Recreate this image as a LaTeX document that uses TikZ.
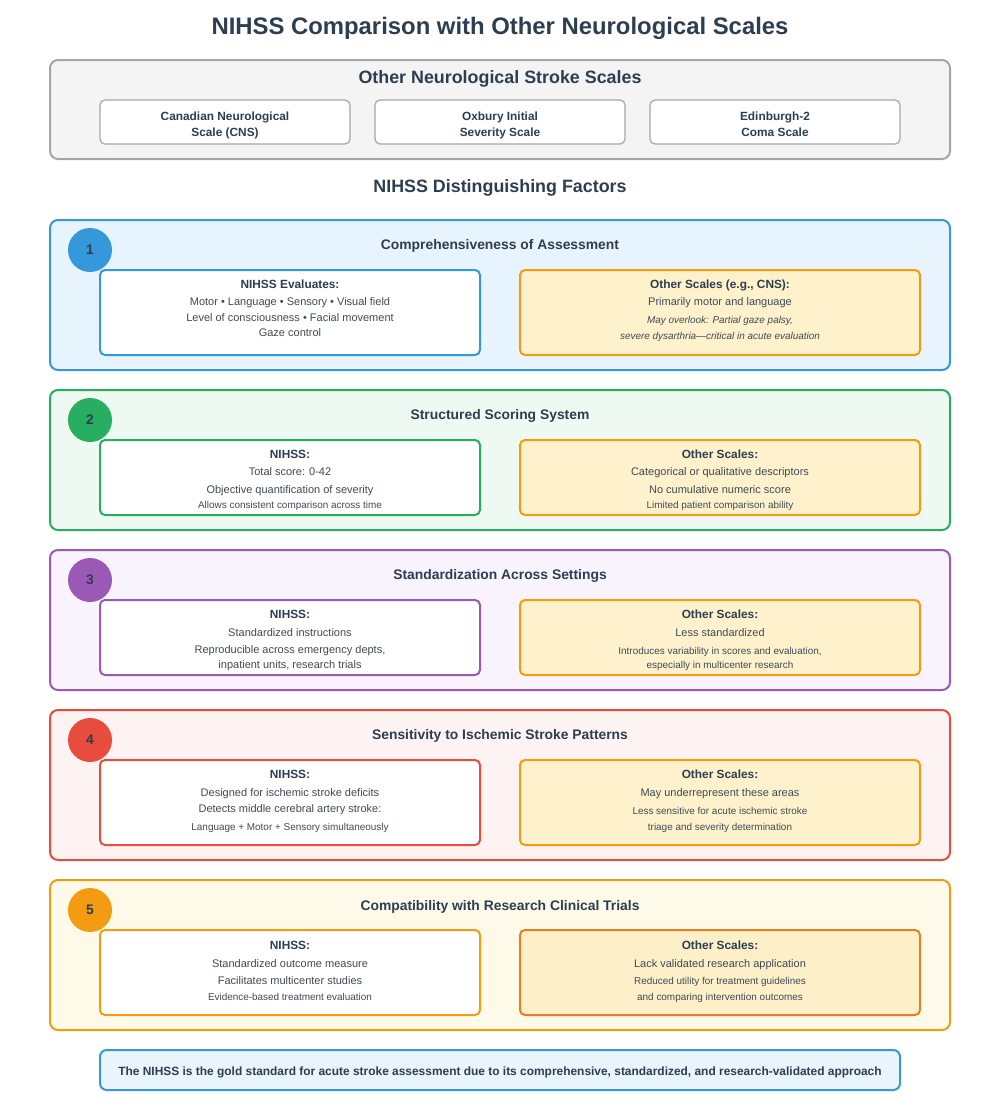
\documentclass[tikz,border=0pt]{standalone}
\usepackage{fontspec}
\setmainfont{Liberation Sans}
\usetikzlibrary{fit}
\definecolor{dark}{HTML}{2C3E50}
\definecolor{bodyc}{HTML}{3F4A55}
\definecolor{cblue}{HTML}{3498DB}
\definecolor{cgreen}{HTML}{27AE60}
\definecolor{cpurple}{HTML}{9B59B6}
\definecolor{cred}{HTML}{E74C3C}
\definecolor{corange}{HTML}{F39C12}
\definecolor{cdorange}{HTML}{E67E22}
\definecolor{fblue}{HTML}{E8F4FD}
\definecolor{fgreen}{HTML}{EEFAF1}
\definecolor{fpurple}{HTML}{F8F3FC}
\definecolor{fred}{HTML}{FDF3F2}
\definecolor{forange}{HTML}{FEFAEA}
\definecolor{fcream}{HTML}{FEF2CC}
\definecolor{fcream2}{HTML}{FDEFC8}
\definecolor{fgray}{HTML}{F4F4F4}
\definecolor{bgray}{HTML}{A6A6A6}
\definecolor{ffoot}{HTML}{EAF4FB}
\newcommand\ftitle{\fontsize{17.9}{21}\selectfont\bfseries}
\newcommand\fsec{\fontsize{13.4}{16}\selectfont\bfseries}
\newcommand\fsect{\fontsize{10.4}{12}\selectfont\bfseries}
\newcommand\fhead{\fontsize{8.9}{11}\selectfont\bfseries}
\newcommand\fbody{\fontsize{8.25}{10}\selectfont}
\newcommand\fsmall{\fontsize{7.45}{9}\selectfont}
\begin{document}
\begin{tikzpicture}[x=0.75pt,y=-0.75pt,
  frame/.style={inner sep=0pt, rounded corners=6pt, line width=1.5pt},
  inbox/.style={inner sep=0pt, rounded corners=3.75pt, line width=1.5pt},
  num/.style={circle, minimum size=33pt, inner sep=0pt, text=dark, font=\fsect},
  t/.style={anchor=mid, inner sep=0pt, text=bodyc, yshift=-1.1pt},
  th/.style={t, text=dark, font=\fhead},
  tb/.style={t, font=\fbody},
  ts/.style={t, font=\fsmall},
  tsi/.style={t, font=\fsmall\itshape},
  st/.style={anchor=mid, inner sep=0pt, text=dark, font=\fsect, yshift=-1.1pt}]
\useasboundingbox (0,0) rectangle (1000,1100);
\fill[white] (0,0) rectangle (1000,1100);

% Title
\node[anchor=mid, inner sep=0pt, text=dark, font=\ftitle] (title) at (500,31) {NIHSS Comparison with Other Neurological Scales};

% Other scales
\node[frame, fit={(50,60)(950,159)}, draw=bgray, fill=fgray] (other) {};
\node[st, font=\fsec] (othert) at (500,79) {Other Neurological Stroke Scales};
\node[inbox, fit={(100,100)(350,144)}, draw=bgray, fill=white, line width=0.9pt] (cns) {};
\node[inbox, fit={(375,100)(625,144)}, draw=bgray, fill=white, line width=0.9pt] (oxb) {};
\node[inbox, fit={(650,100)(900,144)}, draw=bgray, fill=white, line width=0.9pt] (edi) {};
\node[th] (cns1) at (225,116) {Canadian Neurological};
\node[th] (cns2) at (225,132) {Scale (CNS)};
\node[th] (oxb1) at (500,116) {Oxbury Initial};
\node[th] (oxb2) at (500,132) {Severity Scale};
\node[th] (edi1) at (775,116) {Edinburgh-2};
\node[th] (edi2) at (775,132) {Coma Scale};

\node[st, font=\fsec] (dist) at (500,188) {NIHSS Distinguishing Factors};

% Section 1
\node[frame, fit={(50,220)(950,370)}, draw=cblue, fill=fblue] (s1) {};
\node[num, fill=cblue] (n1) at (90,250) {1};
\node[st] (s1t) at (500,245) {Comprehensiveness of Assessment};
\node[inbox, fit={(100,270)(480,355)}, draw=cblue, fill=white] (s1l) {};
\node[inbox, fit={(520,270)(920,355)}, draw=corange, fill=fcream] (s1r) {};
\node[th] (s1la) at (290,284) {NIHSS Evaluates:};
\node[tb] (s1lb) at (290,301) {Motor • Language • Sensory • Visual field};
\node[tb] (s1lc) at (290,317) {Level of consciousness • Facial movement};
\node[tb] (s1ld) at (290,332) {Gaze control};
\node[th] (s1ra) at (720,284) {Other Scales (e.g., CNS):};
\node[tb] (s1rb) at (720,301) {Primarily motor and language};
\node[tsi] (s1rc) at (720,319) {May overlook: Partial gaze palsy,};
\node[tsi] (s1rd) at (720,335) {severe dysarthria—critical in acute evaluation};

% Section 2
\node[frame, fit={(50,390)(950,530)}, draw=cgreen, fill=fgreen] (s2) {};
\node[num, fill=cgreen] (n2) at (90,420) {2};
\node[st] (s2t) at (500,415) {Structured Scoring System};
\node[inbox, fit={(100,440)(480,515)}, draw=cgreen, fill=white] (s2l) {};
\node[inbox, fit={(520,440)(920,515)}, draw=corange, fill=fcream] (s2r) {};
\node[th] (s2la) at (290,454) {NIHSS:};
\node[tb] (s2lb) at (290,471) {Total score: 0-42};
\node[tb] (s2lc) at (290,488.5) {Objective quantification of severity};
\node[ts] (s2ld) at (290,504) {Allows consistent comparison across time};
\node[th] (s2ra) at (720,454) {Other Scales:};
\node[tb] (s2rb) at (720,471) {Categorical or qualitative descriptors};
\node[tb] (s2rc) at (720,488.5) {No cumulative numeric score};
\node[ts] (s2rd) at (720,504) {Limited patient comparison ability};

% Section 3
\node[frame, fit={(50,550)(950,690)}, draw=cpurple, fill=fpurple] (s3) {};
\node[num, fill=cpurple] (n3) at (90,580) {3};
\node[st] (s3t) at (500,575) {Standardization Across Settings};
\node[inbox, fit={(100,600)(480,675)}, draw=cpurple, fill=white] (s3l) {};
\node[inbox, fit={(520,600)(920,675)}, draw=corange, fill=fcream] (s3r) {};
\node[th] (s3la) at (290,614) {NIHSS:};
\node[tb] (s3lb) at (290,632) {Standardized instructions};
\node[tb] (s3lc) at (290,649) {Reproducible across emergency depts,};
\node[tb] (s3ld) at (290,664) {inpatient units, research trials};
\node[th] (s3ra) at (720,614) {Other Scales:};
\node[tb] (s3rb) at (720,632) {Less standardized};
\node[ts] (s3rc) at (720,649.5) {Introduces variability in scores and evaluation,};
\node[ts] (s3rd) at (720,664) {especially in multicenter research};

% Section 4
\node[frame, fit={(50,710)(950,860)}, draw=cred, fill=fred] (s4) {};
\node[num, fill=cred] (n4) at (90,740) {4};
\node[st] (s4t) at (500,735) {Sensitivity to Ischemic Stroke Patterns};
\node[inbox, fit={(100,760)(480,845)}, draw=cred, fill=white] (s4l) {};
\node[inbox, fit={(520,760)(920,845)}, draw=corange, fill=fcream] (s4r) {};
\node[th] (s4la) at (290,774) {NIHSS:};
\node[tb] (s4lb) at (290,792) {Designed for ischemic stroke deficits};
\node[tb] (s4lc) at (290,808) {Detects middle cerebral artery stroke:};
\node[ts] (s4ld) at (290,825) {Language + Motor + Sensory simultaneously};
\node[th] (s4ra) at (720,774) {Other Scales:};
\node[tb] (s4rb) at (720,792) {May underrepresent these areas};
\node[ts] (s4rc) at (720,809) {Less sensitive for acute ischemic stroke};
\node[ts] (s4rd) at (720,825) {triage and severity determination};

% Section 5
\node[frame, fit={(50,880)(950,1030)}, draw=corange, fill=forange] (s5) {};
\node[num, fill=corange] (n5) at (90,910) {5};
\node[st] (s5t) at (500,905) {Compatibility with Research Clinical Trials};
\node[inbox, fit={(100,930)(480,1015)}, draw=corange, fill=white] (s5l) {};
\node[inbox, fit={(520,930)(920,1015)}, draw=cdorange, fill=fcream2] (s5r) {};
\node[th] (s5la) at (290,944) {NIHSS:};
\node[tb] (s5lb) at (290,962) {Standardized outcome measure};
\node[tb] (s5lc) at (290,979) {Facilitates multicenter studies};
\node[ts] (s5ld) at (290,995) {Evidence-based treatment evaluation};
\node[th] (s5ra) at (720,944) {Other Scales:};
\node[tb] (s5rb) at (720,962) {Lack validated research application};
\node[ts] (s5rc) at (720,979) {Reduced utility for treatment guidelines};
\node[ts] (s5rd) at (720,995) {and comparing intervention outcomes};

% Footer
\node[inbox, fit={(100,1050)(900,1090)}, rounded corners=5pt, draw=cblue, fill=ffoot] (foot) {};
\node[st, font=\fontsize{8.95}{11}\selectfont\bfseries] (foott) at (500,1070) {The NIHSS is the gold standard for acute stroke assessment due to its comprehensive, standardized, and research-validated approach};
\end{tikzpicture}
\end{document}
